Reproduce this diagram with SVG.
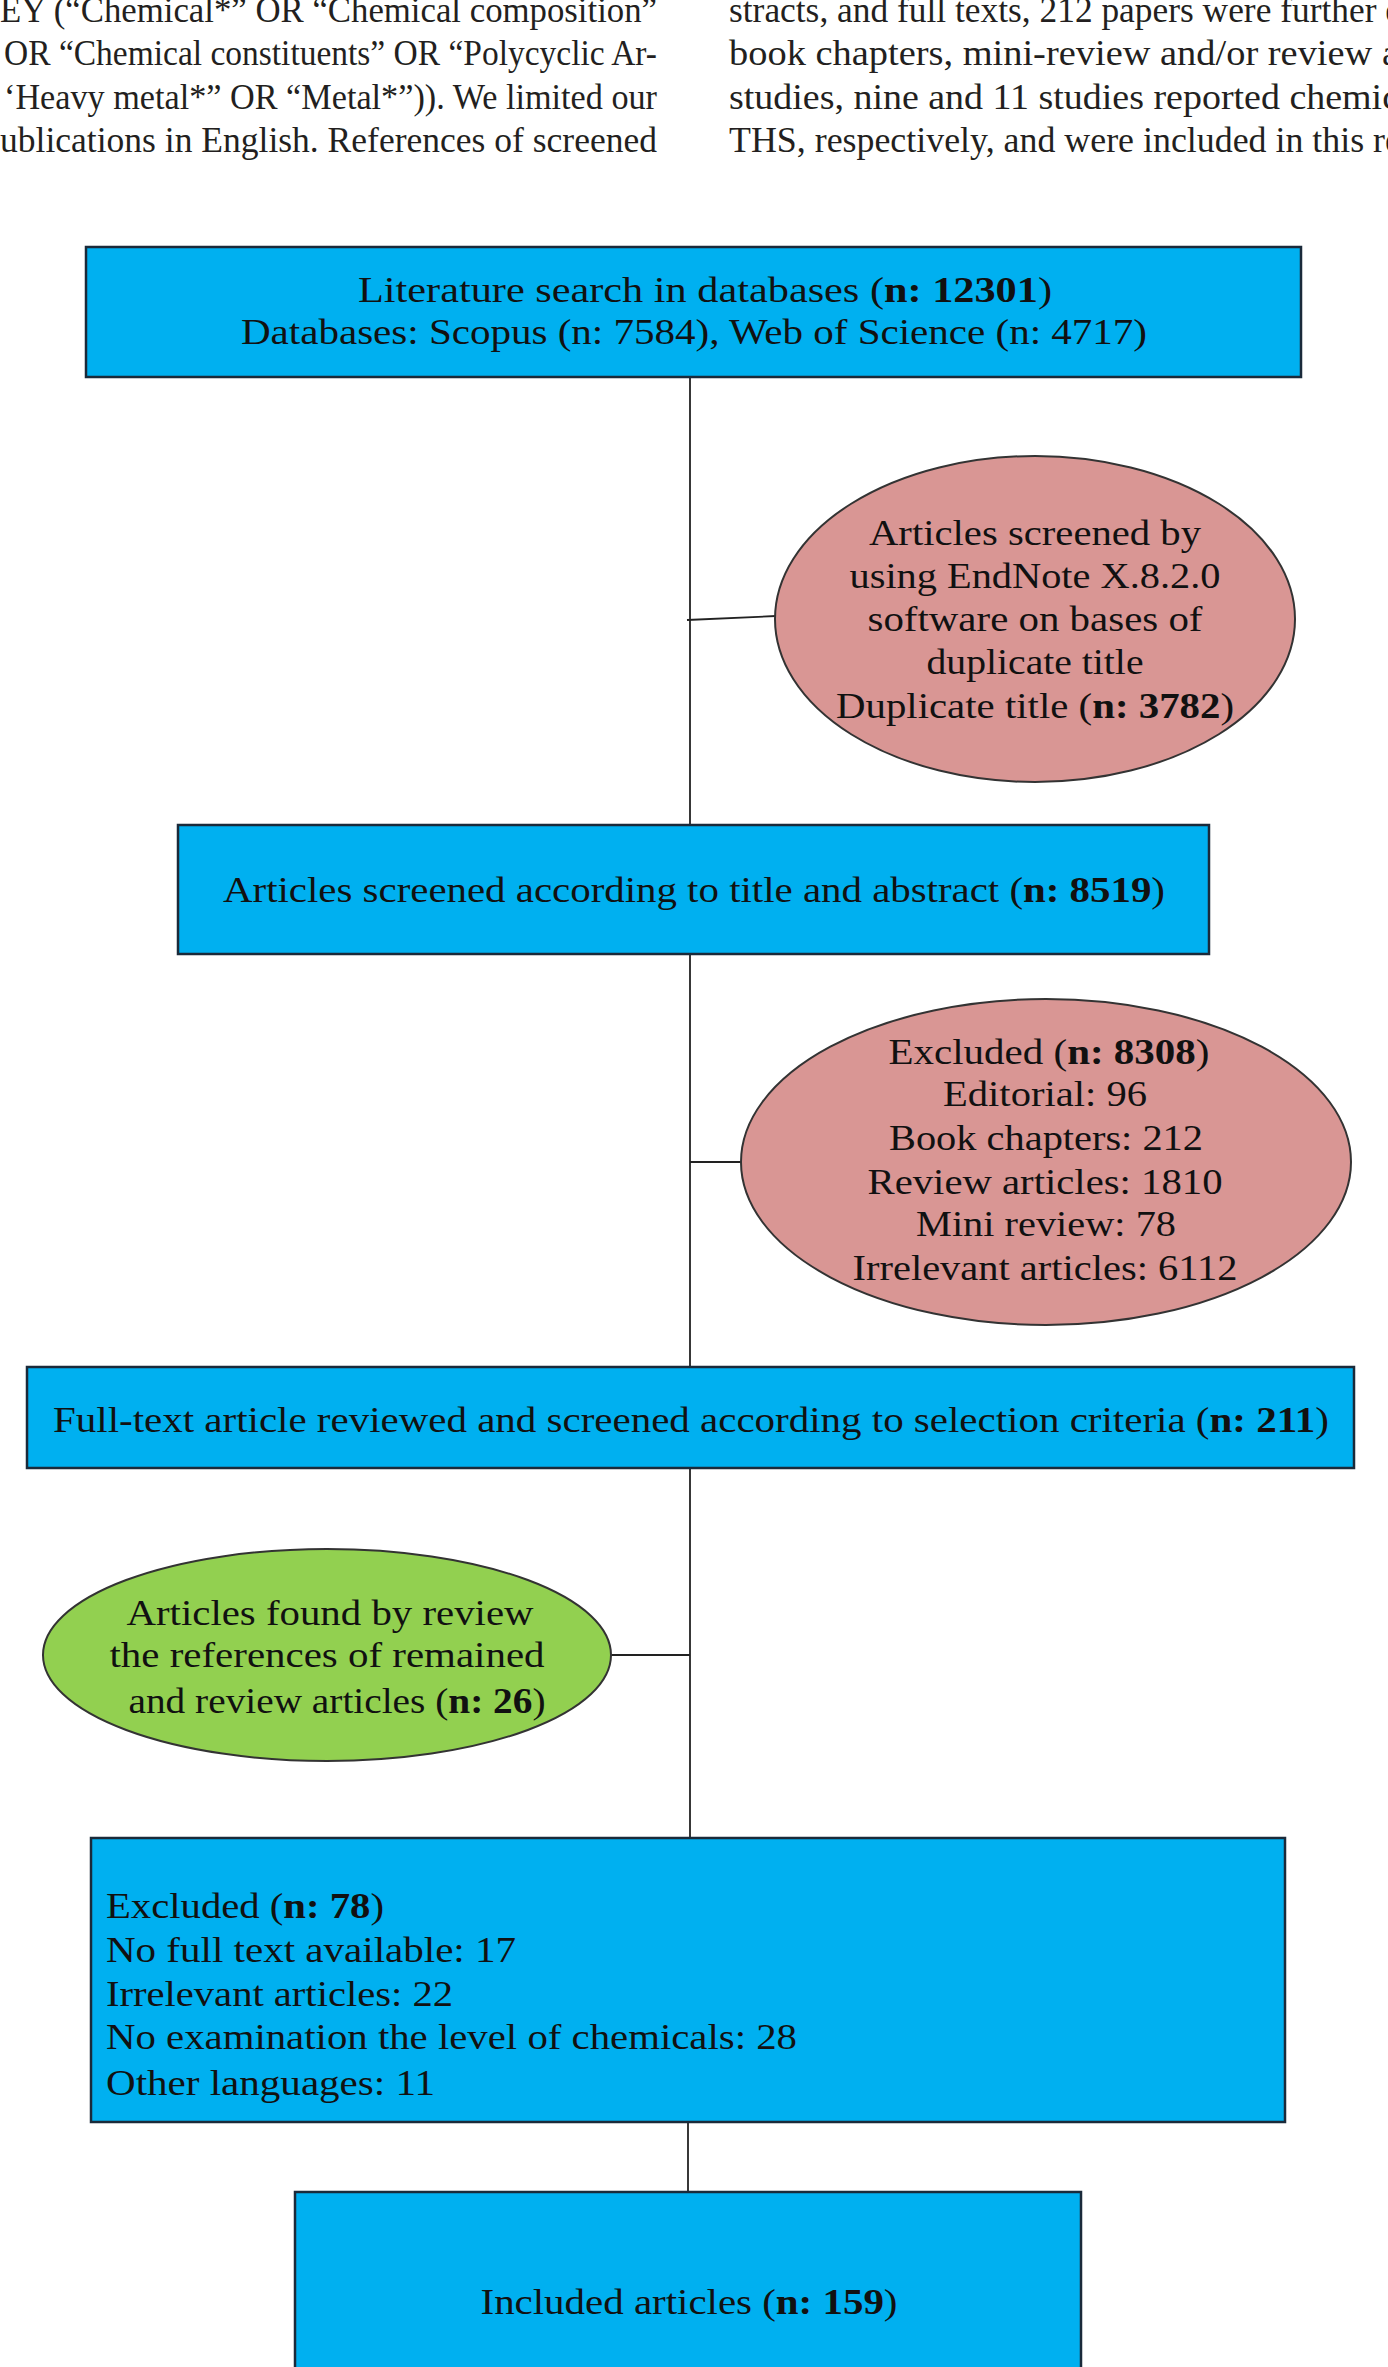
<svg xmlns="http://www.w3.org/2000/svg" width="1388" height="2367" viewBox="0 0 1388 2367">
<style>
.hdr{font-family:"Liberation Serif",serif;font-size:36px;fill:#231f20}
.t{font-family:"Liberation Serif",serif;font-size:36px;fill:#111}
.c{text-anchor:middle}
.box{fill:#00B0F0;stroke:#1a2a3a;stroke-width:2.5}
.red{fill:#D99694;stroke:#333;stroke-width:2}
.grn{fill:#92D050;stroke:#333;stroke-width:2}
.ln{stroke:#222;stroke-width:1.8;fill:none}
</style>
<rect width="1388" height="2367" fill="#fff"/>
<g id="header">
<text class="hdr" x="0" y="22" textLength="657" lengthAdjust="spacingAndGlyphs">EY (“Chemical*” OR “Chemical composition”</text>
<text class="hdr" x="4" y="65" textLength="653" lengthAdjust="spacingAndGlyphs">OR “Chemical constituents” OR “Polycyclic Ar-</text>
<text class="hdr" x="4" y="109" textLength="653" lengthAdjust="spacingAndGlyphs">‘Heavy metal*” OR “Metal*”)). We limited our</text>
<text class="hdr" x="0" y="152" textLength="657" lengthAdjust="spacingAndGlyphs">ublications in English. References of screened</text>
<text class="hdr" x="729" y="22" textLength="672" lengthAdjust="spacingAndGlyphs">stracts, and full texts, 212 papers were further e</text>
<text class="hdr" x="729" y="65" textLength="670" lengthAdjust="spacingAndGlyphs">book chapters, mini-review and/or review a</text>
<text class="hdr" x="729" y="109" textLength="670" lengthAdjust="spacingAndGlyphs">studies, nine and 11 studies reported chemic</text>
<text class="hdr" x="729" y="152" textLength="672" lengthAdjust="spacingAndGlyphs">THS, respectively, and were included in this re</text>
</g>
<g id="connectors">
<line class="ln" x1="690" y1="377" x2="690" y2="1838"/>
<line class="ln" x1="687" y1="620" x2="776" y2="616"/>
<line class="ln" x1="690" y1="1162" x2="742" y2="1162"/>
<line class="ln" x1="611" y1="1655" x2="690" y2="1655"/>
<line class="ln" x1="688" y1="2122" x2="688" y2="2192"/>
</g>
<g id="n1">
<rect class="box" x="86" y="247" width="1215" height="130"/>
<text class="t c" x="705" y="302" textLength="694" lengthAdjust="spacingAndGlyphs">Literature search in databases (<tspan font-weight="bold">n: 12301</tspan>)</text>
<text class="t c" x="694" y="344" textLength="906" lengthAdjust="spacingAndGlyphs">Databases: Scopus (n: 7584), Web of Science (n: 4717)</text>
</g>
<g id="n2">
<ellipse class="red" cx="1035" cy="619" rx="260" ry="163"/>
<text class="t c" x="1035" y="545" textLength="332" lengthAdjust="spacingAndGlyphs">Articles screened by</text>
<text class="t c" x="1035" y="588" textLength="371" lengthAdjust="spacingAndGlyphs">using EndNote X.8.2.0</text>
<text class="t c" x="1035" y="631" textLength="335" lengthAdjust="spacingAndGlyphs">software on bases of</text>
<text class="t c" x="1035" y="674" textLength="217" lengthAdjust="spacingAndGlyphs">duplicate title</text>
<text class="t c" x="1035" y="718" textLength="398" lengthAdjust="spacingAndGlyphs">Duplicate title (<tspan font-weight="bold">n: 3782</tspan>)</text>
</g>
<g id="n3">
<rect class="box" x="178" y="825" width="1031" height="129"/>
<text class="t c" x="694" y="902" textLength="942" lengthAdjust="spacingAndGlyphs">Articles screened according to title and abstract (<tspan font-weight="bold">n: 8519</tspan>)</text>
</g>
<g id="n4">
<ellipse class="red" cx="1046" cy="1162" rx="305" ry="163"/>
<text class="t c" x="1049" y="1064" textLength="321" lengthAdjust="spacingAndGlyphs">Excluded (<tspan font-weight="bold">n: 8308</tspan>)</text>
<text class="t c" x="1045" y="1106" textLength="204" lengthAdjust="spacingAndGlyphs">Editorial: 96</text>
<text class="t c" x="1046" y="1150" textLength="314" lengthAdjust="spacingAndGlyphs">Book chapters: 212</text>
<text class="t c" x="1045" y="1194" textLength="355" lengthAdjust="spacingAndGlyphs">Review articles: 1810</text>
<text class="t c" x="1046" y="1236" textLength="260" lengthAdjust="spacingAndGlyphs">Mini review: 78</text>
<text class="t c" x="1045" y="1280" textLength="385" lengthAdjust="spacingAndGlyphs">Irrelevant articles: 6112</text>
</g>
<g id="n5">
<rect class="box" x="27" y="1367" width="1327" height="101"/>
<text class="t c" x="691" y="1432" textLength="1276" lengthAdjust="spacingAndGlyphs">Full-text article reviewed and screened according to selection criteria (<tspan font-weight="bold">n: 211</tspan>)</text>
</g>
<g id="n6">
<ellipse class="grn" cx="327" cy="1655" rx="284" ry="106"/>
<text class="t c" x="330" y="1625" textLength="407" lengthAdjust="spacingAndGlyphs">Articles found by review</text>
<text class="t c" x="327" y="1667" textLength="435" lengthAdjust="spacingAndGlyphs">the references of remained</text>
<text class="t c" x="337" y="1713" textLength="417" lengthAdjust="spacingAndGlyphs">and review articles (<tspan font-weight="bold">n: 26</tspan>)</text>
</g>
<g id="n7">
<rect class="box" x="91" y="1838" width="1194" height="284"/>
<text class="t" x="106" y="1918" textLength="278" lengthAdjust="spacingAndGlyphs">Excluded (<tspan font-weight="bold">n: 78</tspan>)</text>
<text class="t" x="106" y="1962" textLength="410" lengthAdjust="spacingAndGlyphs">No full text available: 17</text>
<text class="t" x="106" y="2006" textLength="347" lengthAdjust="spacingAndGlyphs">Irrelevant articles: 22</text>
<text class="t" x="106" y="2049" textLength="691" lengthAdjust="spacingAndGlyphs">No examination the level of chemicals: 28</text>
<text class="t" x="106" y="2095" textLength="329" lengthAdjust="spacingAndGlyphs">Other languages: 11</text>
</g>
<g id="n8">
<rect class="box" x="295" y="2192" width="786" height="190"/>
<text class="t c" x="689" y="2314" textLength="417" lengthAdjust="spacingAndGlyphs">Included articles (<tspan font-weight="bold">n: 159</tspan>)</text>
</g>
</svg>
